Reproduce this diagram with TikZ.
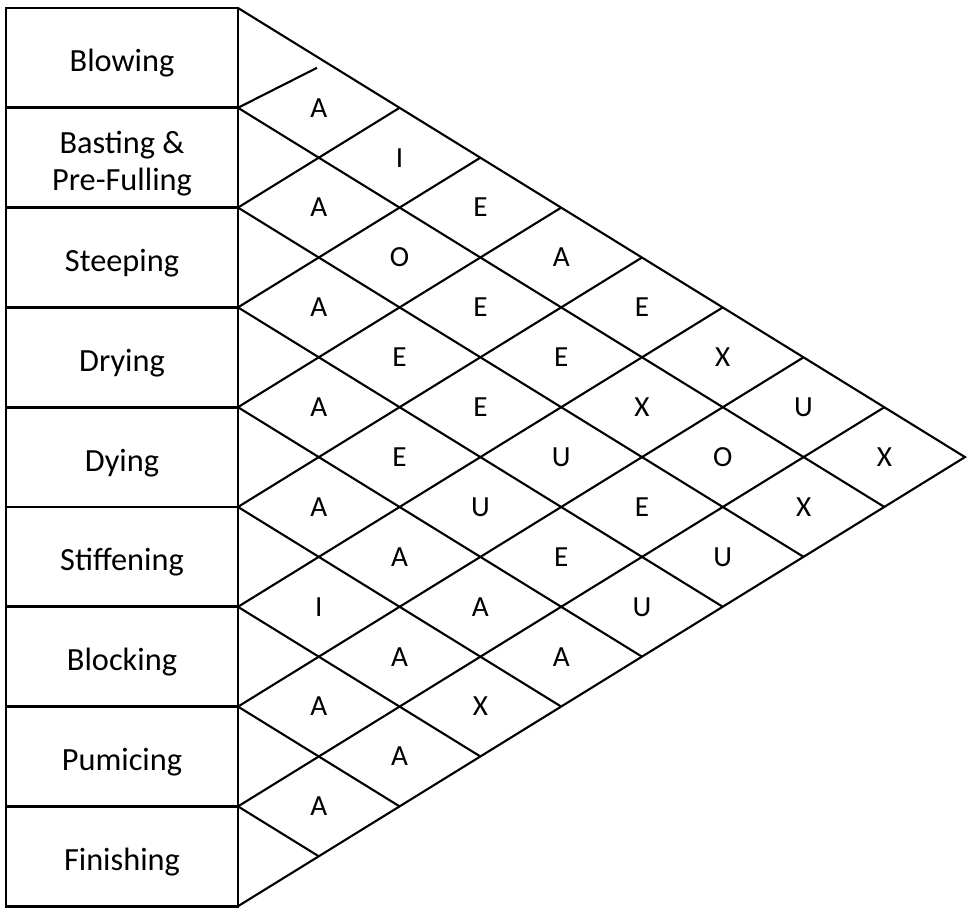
\documentclass[tikz,border=0pt]{standalone}
\usepackage{fontspec}
\setmainfont{Carlito}
\usetikzlibrary{positioning}

\begin{document}
\begin{tikzpicture}[
    dept/.style={draw, line width=0.8pt, outer sep=0pt, inner sep=0pt, minimum width=2.32cm, minimum height=0.998cm, font=\fontsize{9.2}{10.6}\selectfont, align=center, text height=1.0em, text depth=0.2em},
    rel/.style={inner sep=0pt, font=\fontsize{8.3}{10}\selectfont},
    grid/.style={line width=0.6pt}
  ]
  \useasboundingbox (0,0) rectangle (9.75,-9.10);

  % Departments
  \node[dept] (blowing) at (1.22,-0.579) {Blowing};
  \node[dept, below=0pt of blowing, text height=2.06em] (basting) {Basting \&\\Pre-Fulling};
  \node[dept, below=0pt of basting] (steeping) {Steeping};
  \node[dept, below=0pt of steeping] (drying) {Drying};
  \node[dept, below=0pt of drying] (dying) {Dying};
  \node[dept, below=0pt of dying] (stiffening) {Stiffening};
  \node[dept, below=0pt of stiffening] (blocking) {Blocking};
  \node[dept, below=0pt of blocking] (pumicing) {Pumicing};
  \node[dept, below=0pt of pumicing] (finishing) {Finishing};

  % Row boundaries on the chart edge
  \foreach \k in {0,...,9}
    \coordinate (b\k) at (2.38,{-0.08-0.998*\k});
  \coordinate (apex) at (9.65,-4.571);

  % Triangle and diamond grid
  \draw[grid] (b0) -- (apex) -- (b9);
  \foreach \k in {1,...,8}
    \draw[grid] (b\k) -- ++({(9-\k)*0.808},{-(9-\k)*0.499});
  \foreach \k in {2,...,8}
    \draw[grid] (b\k) -- ++({\k*0.808},{\k*0.499});
  \draw[grid] (b1) -- ++(0.79,0.40);

  % Closeness ratings
  \foreach \i/\j/\r in {1/2/A, 1/3/I, 1/4/E, 1/5/A, 1/6/E, 1/7/X, 1/8/U, 1/9/X,
                        2/3/A, 2/4/O, 2/5/E, 2/6/E, 2/7/X, 2/8/O, 2/9/X,
                        3/4/A, 3/5/E, 3/6/E, 3/7/U, 3/8/E, 3/9/U,
                        4/5/A, 4/6/E, 4/7/U, 4/8/E, 4/9/U,
                        5/6/A, 5/7/A, 5/8/A, 5/9/A,
                        6/7/I, 6/8/A, 6/9/X,
                        7/8/A, 7/9/A,
                        8/9/A}
    \node[rel] (r\i-\j) at ({2.38+(\j-\i)*0.808},{-0.08-(\i+\j-1)*0.499}) {\r};
\end{tikzpicture}
\end{document}
